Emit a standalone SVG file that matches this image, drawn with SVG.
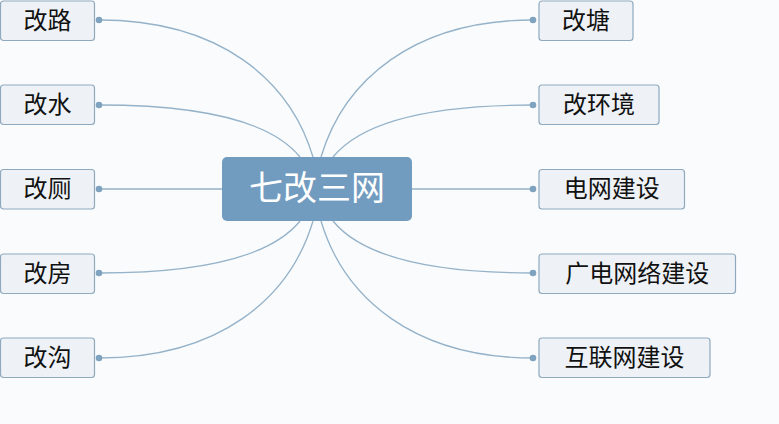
<svg xmlns="http://www.w3.org/2000/svg" width="779" height="424" viewBox="0 0 779 424">
<style>
.bg{fill:#fafbfc}
.box{fill:#eef2f6;stroke:#8fa9bf;stroke-width:1.2}
.lbl{font-family:"Noto Sans CJK SC","Noto Sans",sans-serif;font-size:24px;fill:#111111;text-anchor:middle;dominant-baseline:central}
.ctr{fill:#729cbf}
.ctxt{font-family:"Noto Sans CJK SC","Noto Sans",sans-serif;font-size:34px;fill:#ffffff;text-anchor:middle;dominant-baseline:central}
.ln{fill:none;stroke:#94b2c9;stroke-width:1.3}
.dot{fill:#7fa2bf}
</style>
<rect class="bg" x="0" y="0" width="779" height="424"/>
<g id="connectors">
<path class="ln" d="M313,157 C290,80 220,20 99,20"/>
<path class="ln" d="M300,157 C270,120 200,105 99,105"/>
<path class="ln" d="M222,189 L99,189"/>
<path class="ln" d="M300,221 C270,258 200,273 99,273"/>
<path class="ln" d="M313,221 C290,298 220,358 99,358"/>
<path class="ln" d="M321,157 C344,80 414,20 533,20"/>
<path class="ln" d="M333,157 C363,120 433,105 533,105"/>
<path class="ln" d="M412,189 L533,189"/>
<path class="ln" d="M333,221 C363,258 433,273 533,273"/>
<path class="ln" d="M321,221 C344,298 414,358 533,358"/>
<circle class="dot" cx="99" cy="20" r="3.3"/>
<circle class="dot" cx="99" cy="105" r="3.3"/>
<circle class="dot" cx="99" cy="189" r="3.3"/>
<circle class="dot" cx="99" cy="273" r="3.3"/>
<circle class="dot" cx="99" cy="358" r="3.3"/>
<circle class="dot" cx="533" cy="20" r="3.3"/>
<circle class="dot" cx="533" cy="105" r="3.3"/>
<circle class="dot" cx="533" cy="189" r="3.3"/>
<circle class="dot" cx="533" cy="273" r="3.3"/>
<circle class="dot" cx="533" cy="358" r="3.3"/>
</g>
<g id="center">
<rect class="ctr" x="222" y="157" width="190" height="64" rx="5"/>
<text class="ctxt" x="317" y="185">七改三网</text>
</g>
<g id="n-gailu"><rect class="box" x="0.5" y="1" width="94" height="39.5" rx="3"/><text class="lbl" x="47.5" y="18">改路</text></g>
<g id="n-gaishui"><rect class="box" x="0.5" y="85" width="94" height="39.5" rx="3"/><text class="lbl" x="47.5" y="102">改水</text></g>
<g id="n-gaice"><rect class="box" x="0.5" y="169.5" width="94" height="39.5" rx="3"/><text class="lbl" x="47.5" y="186.5">改厕</text></g>
<g id="n-gaifang"><rect class="box" x="0.5" y="254" width="94" height="39.5" rx="3"/><text class="lbl" x="47.5" y="271">改房</text></g>
<g id="n-gaigou"><rect class="box" x="0.5" y="338" width="94" height="39.5" rx="3"/><text class="lbl" x="47.5" y="355">改沟</text></g>
<g id="n-gaitang"><rect class="box" x="539" y="1" width="94" height="39.5" rx="3"/><text class="lbl" x="586" y="18">改塘</text></g>
<g id="n-gaihuanjing"><rect class="box" x="539" y="85" width="120" height="39.5" rx="3"/><text class="lbl" x="599" y="102">改环境</text></g>
<g id="n-dianwang"><rect class="box" x="539" y="169.5" width="145.5" height="39.5" rx="3"/><text class="lbl" x="611.75" y="186.5">电网建设</text></g>
<g id="n-guangdian"><rect class="box" x="539" y="254" width="196.5" height="39.5" rx="3"/><text class="lbl" x="637.25" y="271">广电网络建设</text></g>
<g id="n-hulianwang"><rect class="box" x="539" y="338" width="171" height="39.5" rx="3"/><text class="lbl" x="624.5" y="355">互联网建设</text></g>
</svg>
